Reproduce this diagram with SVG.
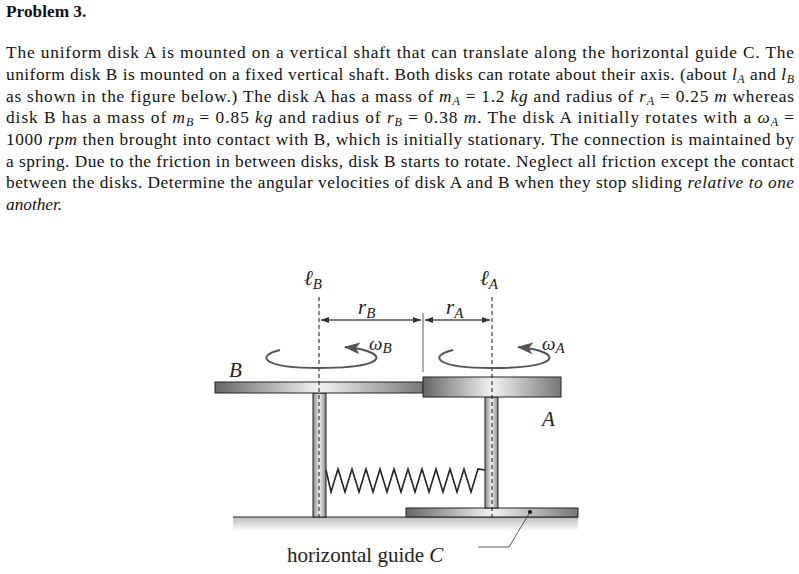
<svg xmlns="http://www.w3.org/2000/svg" width="799" height="574" viewBox="0 0 799 574">
<style>
.dash{stroke:#111;stroke-width:1;stroke-dasharray:4 3;fill:none}
.thin{stroke:#333;stroke-width:0.8;fill:none}
</style>
<defs>
<linearGradient id="g" x1="0" x2="1" y1="0" y2="0">
<stop offset="0" stop-color="#666"/><stop offset="0.5" stop-color="#f2f2f2"/><stop offset="1" stop-color="#777"/>
</linearGradient>
<linearGradient id="sh" x1="0" x2="1" y1="0" y2="0">
<stop offset="0" stop-color="#888"/><stop offset="0.5" stop-color="#eee"/><stop offset="1" stop-color="#888"/>
</linearGradient>
<linearGradient id="gr" x1="0" x2="0" y1="0" y2="1">
<stop offset="0" stop-color="#bbb"/><stop offset="1" stop-color="#fff"/>
</linearGradient>
<marker id="ar" markerWidth="8" markerHeight="6" refX="8" refY="3" orient="auto" markerUnits="userSpaceOnUse"><path d="M0,0 L8,3 L0,6z" fill="#333"/></marker>
<marker id="rot" markerWidth="16" markerHeight="12" refX="15" refY="6" orient="auto" markerUnits="userSpaceOnUse"><path d="M0,0 L16,6 L0,12 L4,6z" fill="#555"/></marker>
</defs>
<rect width="799" height="574" fill="#fff"/>
<g id="text" font-family="Liberation Serif, serif" font-size="17.3" fill="#111">
<text x="6" y="17" font-weight="bold">Problem 3.</text>
<text x="6" y="58" textLength="788">The uniform disk A is mounted on a vertical shaft that can translate along the horizontal guide C. The</text>
<text x="6" y="80" textLength="788">uniform disk B is mounted on a fixed vertical shaft. Both disks can rotate about their axis. (about <tspan font-style="italic">l</tspan><tspan font-size="12" font-style="italic" dy="3">A</tspan><tspan dy="-3"> and </tspan><tspan font-style="italic">l</tspan><tspan font-size="12" font-style="italic" dy="3">B</tspan></text>
<text x="6" y="102" textLength="788">as shown in the figure below.) The disk A has a mass of <tspan font-style="italic">m</tspan><tspan font-size="12" font-style="italic" dy="3">A</tspan><tspan dy="-3"> = 1.2 </tspan><tspan font-style="italic">kg</tspan> and radius of <tspan font-style="italic">r</tspan><tspan font-size="12" font-style="italic" dy="3">A</tspan><tspan dy="-3"> = 0.25 </tspan><tspan font-style="italic">m</tspan> whereas</text>
<text x="6" y="123" textLength="788">disk B has a mass of <tspan font-style="italic">m</tspan><tspan font-size="12" font-style="italic" dy="3">B</tspan><tspan dy="-3"> = 0.85 </tspan><tspan font-style="italic">kg</tspan> and radius of <tspan font-style="italic">r</tspan><tspan font-size="12" font-style="italic" dy="3">B</tspan><tspan dy="-3"> = 0.38 </tspan><tspan font-style="italic">m</tspan>. The disk A initially rotates with a <tspan font-style="italic">ω</tspan><tspan font-size="12" font-style="italic" dy="3">A</tspan><tspan dy="-3"> =</tspan></text>
<text x="6" y="145" textLength="788">1000 <tspan font-style="italic">rpm</tspan> then brought into contact with B, which is initially stationary. The connection is maintained by</text>
<text x="6" y="167" textLength="788">a spring. Due to the friction in between disks, disk B starts to rotate. Neglect all friction except the contact</text>
<text x="6" y="188" textLength="788">between the disks. Determine the angular velocities of disk A and B when they stop sliding <tspan font-style="italic">relative to one</tspan></text>
<text x="6" y="210" font-style="italic">another.</text>
</g>
<g id="ground">
<rect x="233" y="517" width="345" height="14" fill="url(#gr)"/>
<line x1="233" y1="517" x2="578" y2="517" stroke="#222" stroke-width="1.2"/>
</g>
<g id="guideC">
<rect x="406" y="508" width="172" height="9" fill="url(#g)" stroke="#222" stroke-width="1"/>
<circle cx="530" cy="512" r="2" fill="#111"/>
</g>
<g id="shaftB">
<rect x="313" y="393" width="13" height="124" fill="url(#sh)" stroke="#222" stroke-width="1"/>
</g>
<g id="shaftA">
<rect x="485" y="397" width="13" height="111" fill="url(#sh)" stroke="#222" stroke-width="1"/>
</g>
<g id="spring">
<polyline fill="none" stroke="#222" stroke-width="1.6" points="326,470 331,492 338,469 345,492 352,469 359,492 366,469 373,492 380,469 387,492 394,469 401,492 408,469 415,492 422,469 429,492 436,469 443,492 450,469 457,492 464,469 471,492 478,469 485,470"/>
</g>
<g id="diskB">
<rect x="215" y="382" width="208" height="11" fill="url(#g)" stroke="#222" stroke-width="1"/>
<text x="229" y="377" font-family="Liberation Serif, serif" font-style="italic" font-size="21" fill="#222">B</text>
</g>
<g id="diskA">
<rect x="423" y="377" width="138" height="20" fill="url(#g)" stroke="#222" stroke-width="1"/>
<text x="542" y="426" font-family="Liberation Serif, serif" font-style="italic" font-size="21" fill="#222">A</text>
</g>
<g id="axes" font-family="Liberation Serif, serif" font-style="italic" font-size="21" fill="#222">
<line class="dash" x1="319" y1="297" x2="319" y2="517"/>
<line class="dash" x1="492" y1="297" x2="492" y2="517"/>
<line class="thin" x1="423" y1="313" x2="423" y2="372"/>
<text x="304" y="285">ℓ<tspan font-size="15" dy="4">B</tspan></text>
<text x="480" y="285">ℓ<tspan font-size="15" dy="4">A</tspan></text>
</g>
<g id="connectors" font-family="Liberation Serif, serif" font-style="italic" font-size="21" fill="#222">
<line class="thin" x1="321" y1="320" x2="421" y2="320" marker-end="url(#ar)"/>
<line class="thin" x1="421" y1="320" x2="321" y2="320" marker-end="url(#ar)"/>
<line class="thin" x1="425" y1="320" x2="490" y2="320" marker-end="url(#ar)"/>
<line class="thin" x1="490" y1="320" x2="425" y2="320" marker-end="url(#ar)"/>
<text x="358" y="314">r<tspan font-size="15" dy="4">B</tspan></text>
<text x="446" y="314">r<tspan font-size="15" dy="4">A</tspan></text>
<path d="M280,350 C255,356 262,368 319,368 C370,368 385,360 372,353 C364,349 356,348 345,347" fill="none" stroke="#555" stroke-width="2" marker-end="url(#rot)"/>
<path d="M453,350 C428,356 435,368 492,368 C543,368 558,360 545,353 C537,349 529,348 518,347" fill="none" stroke="#555" stroke-width="2" marker-end="url(#rot)"/>
<text x="369" y="350" font-size="19">ω<tspan font-size="15" dy="3">B</tspan></text>
<text x="542" y="350" font-size="19">ω<tspan font-size="15" dy="3">A</tspan></text>
<polyline class="thin" points="530,512 509,547 478,547"/>
<text x="287" y="562" font-style="normal">horizontal guide <tspan font-style="italic">C</tspan></text>
</g>
</svg>
